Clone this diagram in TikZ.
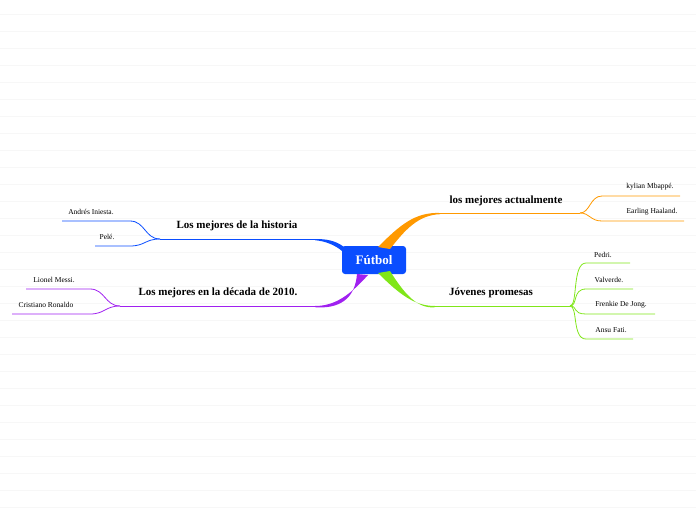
\documentclass[tikz,border=0pt]{standalone}
\usepackage{fontspec}
\setmainfont{Liberation Serif}
\usetikzlibrary{positioning,calc}
\definecolor{cblue}{HTML}{0A4DFF}
\definecolor{corange}{HTML}{FF9900}
\definecolor{cgreen}{HTML}{80E61A}
\definecolor{cpurple}{HTML}{A020F0}
\begin{document}
\begin{tikzpicture}[x=1pt,y=-1pt,
	topic/.style={font=\bfseries\fontsize{11}{13}\selectfont,inner sep=1pt},
	leaf/.style={font=\fontsize{7.5}{9}\selectfont,inner sep=1pt},
	twig/.style={line width=0.8pt},
]
		\useasboundingbox (0,0) rectangle (696,520);
		% faint ruled background
		\foreach \y in {14,31,...,520}
			\draw[black!3,line width=0.5pt] (0,\y) -- (696,\y);
		\node[fill=cblue,text=white,rounded corners=3pt,minimum width=64pt,minimum height=28pt,
			font=\bfseries\fontsize{13}{15}\selectfont] (root) at (374,260) {Fútbol};

		% right side
		\node[topic] (act) at (506,201) {los mejores actualmente};
		\node[topic] (jov) at (491,293) {Jóvenes promesas};
		\coordinate (actL) at (440,213); \coordinate (actR) at (580,213);
		\coordinate (jovL) at (435,306); \coordinate (jovR) at (570,306);
		\fill[corange] (378,247) .. controls (400,225) and (415,212) .. (actL)
			-- ++(0,1.2) .. controls (418,215) and (405,230) .. (390,249) -- cycle;
		\fill[cgreen] (378,273) .. controls (400,295) and (415,306) .. (jovL)
			-- ++(0,1.2) .. controls (418,309) and (405,295) .. (390,271) -- cycle;
		\draw[twig,corange] (actL) -- (actR);
		\draw[twig,cgreen] (jovL) -- (jovR);

		\node[leaf] (mbp) at (650,187) {kylian Mbappé.};
		\node[leaf] (hla) at (652,212) {Earling Haaland.};
		\draw[twig,corange] (actR) .. controls (590,213) and (590,196) .. (602,196) -- (680,196);
		\draw[twig,corange] (actR) .. controls (590,213) and (590,221) .. (602,221) -- (684,221);

		\node[leaf] (ped) at (603,255) {Pedri.};
		\node[leaf] (val) at (609,280) {Valverde.};
		\node[leaf] (fdj) at (621,305) {Frenkie De Jong.};
		\node[leaf] (ans) at (611,330) {Ansu Fati.};
		\foreach \y/\e in {263/630,289/633,314/655,339/633}
			\draw[twig,cgreen] (jovR) .. controls (578,306) and (572,\y) .. (586,\y) -- (\e,\y);

		% left side
		\node[topic] (his) at (237,226) {Los mejores de la historia};
		\node[topic] (dec) at (218,293) {Los mejores en la década de 2010.};
		\coordinate (hisL) at (160,239); \coordinate (hisR) at (315,239);
		\coordinate (decL) at (120,306); \coordinate (decR) at (315,306);
		\fill[cblue] (344,247) .. controls (335,240) and (325,239) .. (hisR)
			-- ++(0,1.2) .. controls (325,241) and (335,245) .. (342,251) -- cycle;
		\fill[cpurple] (368,275) .. controls (350,295) and (335,306) .. (decR)
			-- ++(0,1.2) .. controls (338,309) and (355,300) .. (357,274) -- cycle;
		\draw[twig,cblue] (hisL) -- (hisR);
		\draw[twig,cpurple] (decL) -- (decR);

		\node[leaf] (ini) at (91,212) {Andrés Iniesta.};
		\node[leaf] (pel) at (107,237) {Pelé.};
		\draw[twig,cblue] (hisL) .. controls (145,239) and (145,221) .. (130,221) -- (62,221);
		\draw[twig,cblue] (hisL) .. controls (145,239) and (145,246) .. (130,246) -- (95,246);

		\node[leaf] (mes) at (54,280) {Lionel Messi.};
		\node[leaf] (cro) at (46,305) {Cristiano Ronaldo};
		\draw[twig,cpurple] (decL) .. controls (105,306) and (105,289) .. (90,289) -- (26,289);
		\draw[twig,cpurple] (decL) .. controls (105,306) and (105,314) .. (90,314) -- (12,314);
\end{tikzpicture}
\end{document}
